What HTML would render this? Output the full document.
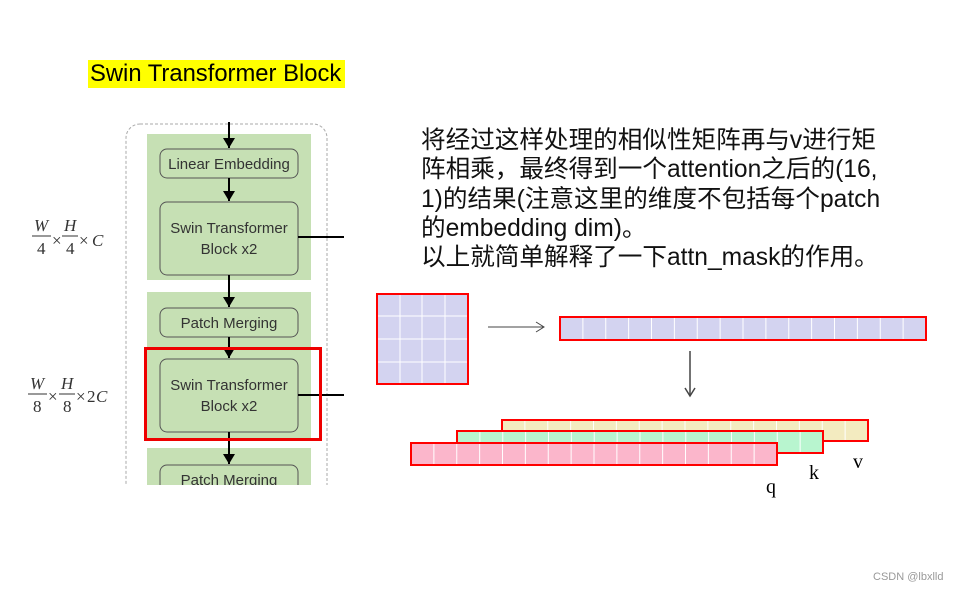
<!DOCTYPE html>
<html><head><meta charset="utf-8"><style>
body{margin:0;width:961px;height:592px;background:#fff;position:relative;overflow:hidden;font-family:"Liberation Sans","Noto Sans CJK SC",sans-serif}
.t{position:absolute;left:421px;font-size:24.6px;white-space:nowrap;color:#111;line-height:29px}
.bx{font-family:"Liberation Sans",sans-serif;font-size:15px;fill:#333}
</style></head><body>
<div style="position:absolute;left:88px;top:60px;width:257px;height:28px;background:#ffff00;font-size:23.8px;line-height:28px;padding-left:2px;box-sizing:border-box;white-space:nowrap">Swin Transformer Block</div>
<div class="t" style="top:126px">将经过这样处理的相似性矩阵再与v进行矩</div>
<div class="t" style="top:155px">阵相乘，最终得到一个attention之后的(16,</div>
<div class="t" style="top:185px">1)的结果(注意这里的维度不包括每个patch</div>
<div class="t" style="top:214px">的embedding dim)。</div>
<div class="t" style="top:243px">以上就简单解释了一下attn_mask的作用。</div>
<svg width="961" height="592" style="position:absolute;left:0;top:0">
<defs><marker id="a" markerWidth="5" markerHeight="6" refX="5" refY="3" orient="auto"><path d="M0,0L5,3L0,6z" fill="#000"/></marker></defs>
<clipPath id="c"><rect x="0" y="0" width="961" height="485"/></clipPath>
<g clip-path="url(#c)">
<rect x="126" y="124" width="201" height="400" rx="14" fill="none" stroke="#aaa" stroke-dasharray="3,2"/>
<rect x="147" y="134" width="164" height="146" fill="#c6e0b4"/>
<rect x="147" y="292" width="164" height="148" fill="#c6e0b4"/>
<rect x="147" y="448" width="164" height="60" fill="#c6e0b4"/>
<g fill="#c6e0b4" stroke="#555" stroke-width="1">
<rect x="160" y="149" width="138" height="29" rx="7"/>
<rect x="160" y="202" width="138" height="73" rx="7"/>
<rect x="160" y="308" width="138" height="29" rx="7"/>
<rect x="160" y="359" width="138" height="73" rx="7"/>
<rect x="160" y="465" width="138" height="29" rx="7"/>
</g>
<g stroke="#000" stroke-width="2" marker-end="url(#a)">
<line x1="229" y1="122" x2="229" y2="148"/>
<line x1="229" y1="178" x2="229" y2="201"/>
<line x1="229" y1="275" x2="229" y2="307"/>
<line x1="229" y1="337" x2="229" y2="358"/>
<line x1="229" y1="432" x2="229" y2="464"/>
</g>
<line x1="298" y1="237" x2="344" y2="237" stroke="#000" stroke-width="2"/>
<line x1="298" y1="395" x2="344" y2="395" stroke="#000" stroke-width="2"/>
<text class="bx" x="229" y="169" text-anchor="middle">Linear Embedding</text>
<text class="bx" x="229" y="233" text-anchor="middle">Swin Transformer</text>
<text class="bx" x="229" y="254" text-anchor="middle">Block x2</text>
<text class="bx" x="229" y="328" text-anchor="middle">Patch Merging</text>
<text class="bx" x="229" y="390" text-anchor="middle">Swin Transformer</text>
<text class="bx" x="229" y="411" text-anchor="middle">Block x2</text>
<text class="bx" x="229" y="485" text-anchor="middle">Patch Merging</text>
<rect x="145.5" y="348.5" width="175" height="91" fill="none" stroke="#e00" stroke-width="3"/>
</g>
<g font-family="Liberation Serif,serif" font-style="italic" font-size="17" fill="#333">
<text x="34" y="231">W</text><line x1="32" y1="236" x2="51" y2="236" stroke="#333"/><text x="37" y="254" font-style="normal">4</text>
<text x="52" y="246" font-style="normal">×</text>
<text x="64" y="231">H</text><line x1="62" y1="236" x2="78" y2="236" stroke="#333"/><text x="66" y="254" font-style="normal">4</text>
<text x="79" y="246" font-style="normal">×</text><text x="92" y="246">C</text>
<text x="30" y="389">W</text><line x1="28" y1="394" x2="47" y2="394" stroke="#333"/><text x="33" y="412" font-style="normal">8</text>
<text x="48" y="402" font-style="normal">×</text>
<text x="61" y="389">H</text><line x1="59" y1="394" x2="75" y2="394" stroke="#333"/><text x="63" y="412" font-style="normal">8</text>
<text x="76" y="402" font-style="normal">×</text><text x="87" y="402" font-style="normal">2</text><text x="96" y="402">C</text>
</g>
<rect x="377" y="294" width="91" height="90" fill="#d3d3f0"/>
<g stroke="#fff" stroke-width="1">
<line x1="400" y1="294" x2="400" y2="384"/><line x1="422" y1="294" x2="422" y2="384"/><line x1="445" y1="294" x2="445" y2="384"/>
<line x1="377" y1="316" x2="468" y2="316"/><line x1="377" y1="339" x2="468" y2="339"/><line x1="377" y1="362" x2="468" y2="362"/>
</g>
<rect x="377" y="294" width="91" height="90" fill="none" stroke="#f00" stroke-width="2"/>
<line x1="488" y1="327" x2="543" y2="327" stroke="#444" stroke-width="1"/>
<path d="M536,322L544,327L536,332" fill="none" stroke="#444"/>
<line x1="690" y1="351" x2="690" y2="396" stroke="#444" stroke-width="1.5"/>
<path d="M685,388L690,396L695,388" fill="none" stroke="#444" stroke-width="1.5"/>
<g id="bars"></g>
<text x="766" y="493" font-family="Liberation Serif,serif" font-size="20">q</text>
<text x="809" y="479" font-family="Liberation Serif,serif" font-size="20">k</text>
<text x="853" y="468" font-family="Liberation Serif,serif" font-size="20">v</text>
</svg>
<script>
var g=document.getElementById('bars');
function bar(x,y,w,h,f){var s='<rect x="'+x+'" y="'+y+'" width="'+w+'" height="'+h+'" fill="'+f+'"/>';
for(var i=1;i<16;i++){var xx=x+w*i/16;s+='<line x1="'+xx+'" y1="'+y+'" x2="'+xx+'" y2="'+(y+h)+'" stroke="#fff"/>';}
s+='<rect x="'+x+'" y="'+y+'" width="'+w+'" height="'+h+'" fill="none" stroke="#f00" stroke-width="2"/>';return s;}
g.innerHTML=bar(560,317,366,23,'#d3d3f0')+bar(502,420,366,21,'#f3ebc0')+bar(457,431,366,22,'#b8f5cf')+bar(411,443,366,22,'#fbb6cb');
</script>
<div style="position:absolute;left:873px;top:571px;font-size:11px;color:#999">CSDN @lbxlld</div>
</body></html>
